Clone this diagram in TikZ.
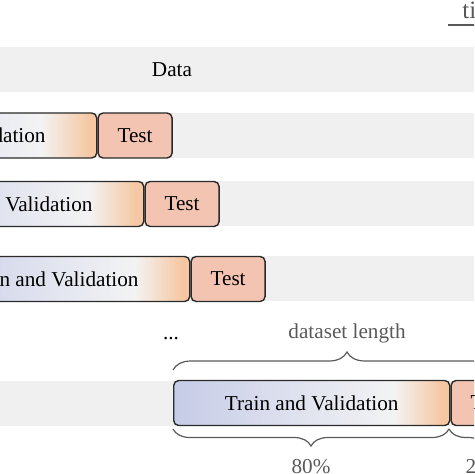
\documentclass[tikz,border=0pt]{standalone}
\usepackage{fontspec}
\setmainfont{Liberation Serif}
\usetikzlibrary{decorations.pathreplacing}
\definecolor{bandgray}{HTML}{F0F0F0}
\definecolor{boxline}{HTML}{2A2A2A}
\definecolor{testfill}{HTML}{F2C4B1}
\definecolor{tvblue}{HTML}{C6CCE7}
\definecolor{tvwhite}{HTML}{F3F3F4}
\definecolor{tvorange}{HTML}{F5C8A3}
\definecolor{labelgray}{HTML}{595959}
\pgfdeclarehorizontalshading{tvshade}{100bp}{color(0bp)=(tvblue); color(25bp)=(tvblue); color(65bp)=(tvwhite); color(73.5bp)=(tvorange); color(100bp)=(tvorange)}
\begin{document}
\begin{tikzpicture}[x=0.5pt,y=-0.5pt,
  font=\fontsize{10.6}{12}\selectfont,
  bandbox/.style={fill=bandgray, draw=none, minimum width=237pt, minimum height=22.5pt, inner sep=0pt, anchor=west},
  tvbox/.style={draw=boxline, line width=0.7pt, rounded corners=2.5pt, shading=tvshade, minimum width=138pt, minimum height=22.5pt, inner sep=0pt, anchor=west},
  testbox/.style={draw=boxline, line width=0.7pt, rounded corners=2.5pt, fill=testfill, minimum width=37pt, minimum height=22.5pt, inner sep=0pt, anchor=west},
  graylabel/.style={text=labelgray, inner sep=0pt},
  bracestyle/.style={draw=labelgray, line width=0.6pt, decorate},
]
\useasboundingbox (0,0) rectangle (474,474);
\clip (0,0) rectangle (474,474);

% time axis
\node[graylabel, anchor=base west, font=\fontsize{12.5}{14}\selectfont] (time) at (462,19) {time};
\coordinate (tA) at (448,25);
\coordinate (tB) at (560,25);
\draw[labelgray, line width=0.6pt] (tA) -- (tB);

% bands
\node[bandbox] (b0) at (0,69.5) {};
\node (data) at (172,70) {Data};
\node[bandbox] (b1) at (0,135.5) {};
\node[bandbox] (b2) at (0,204) {};
\node[bandbox] (b3) at (0,279) {};
\node[bandbox] (b5) at (0,403) {};
\node[bandbox] (b5r) at (474,403) {};

% rows
\node[tvbox] (tv1) at (-180,135.5) {Train and Validation};
\node[testbox] (te1) at (tv1.east) {Test};
\node[tvbox] (tv2) at (-133,204) {Train and Validation};
\node[testbox] (te2) at (tv2.east) {Test};
\node[tvbox] (tv3) at (-87,279) {Train and Validation};
\node[testbox] (te3) at (tv3.east) {Test};

\node (dots) at (171,339) {...};

\node[tvbox] (tv5) at (173,403) {Train and Validation};
\node[testbox] (te5) at (tv5.east) {Test};

% braces
\coordinate (dlL) at (173,370);
\coordinate (dlR) at (521,370);
\draw[bracestyle, decoration={brace, amplitude=9pt}] (dlL) -- (dlR);
\node[graylabel] (dl) at (347,333) {dataset length};

\coordinate (p80L) at (173,429);
\coordinate (p80R) at (449,429);
\coordinate (p20R) at (521,429);
\draw[bracestyle, decoration={brace, amplitude=8.5pt, mirror}] (p80L) -- (p80R);
\draw[bracestyle, decoration={brace, amplitude=8.5pt, mirror}] (p80R) -- (p20R);
\node[graylabel] (l80) at (311,467) {80\%};
\node[graylabel] (l20) at (485,467) {20\%};
\end{tikzpicture}
\end{document}
